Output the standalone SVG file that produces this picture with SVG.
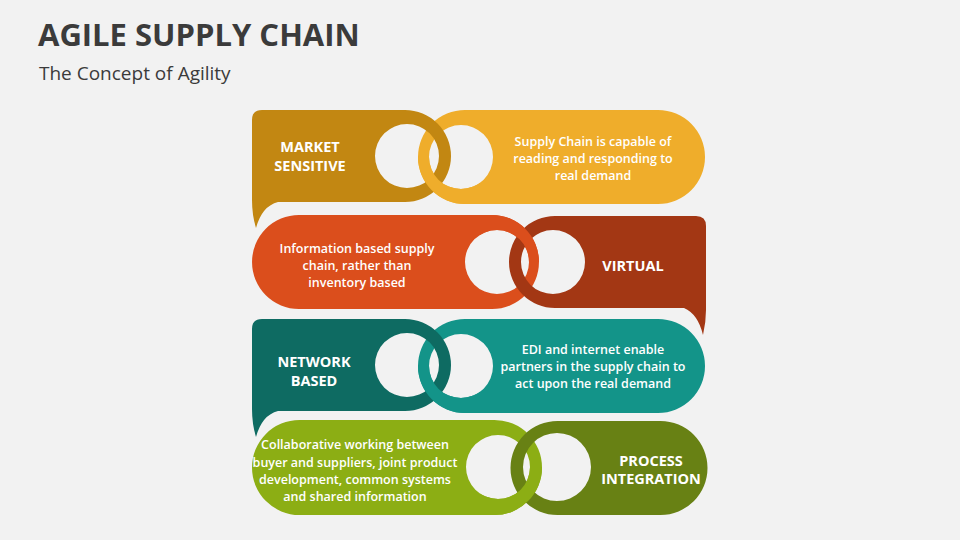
<svg xmlns="http://www.w3.org/2000/svg" width="960" height="540" viewBox="0 0 960 540">
<style>
.s{fill-rule:evenodd}
.h{font-family:"Open Sans","Noto Sans",sans-serif;font-weight:bold;font-size:14.5px;fill:#fff;text-anchor:middle}
.t{font-family:"Open Sans","Noto Sans",sans-serif;font-weight:600;font-size:12.5px;fill:#fff;text-anchor:middle}
</style>
<defs>
<clipPath id="cb1"><rect x="400" y="157" width="80" height="60"/></clipPath>
<clipPath id="ct2"><rect x="480" y="200" width="80" height="62"/></clipPath>
<clipPath id="cb4"><rect x="480" y="468" width="80" height="60"/></clipPath>
<path id="light1" class="s" d="M465,110 H658 A47 47 0 0 1 658,204 H465 A47 47 0 0 1 465,110 Z M429,157 a32 32 0 1 0 64 0 a32 32 0 1 0 -64 0 Z"/>
<path id="dark1" class="s" d="M252,120 Q252,110 262,110 H405 A46 46 0 0 1 405,202 H278 Q262,206 256,228 Q252,215 252,200 Z M375,156 a32 32 0 1 0 64 0 a32 32 0 1 0 -64 0 Z"/>
<path id="or2" class="s" d="M299,215 H492 A47 47 0 0 1 492,309 H299 A47 47 0 0 1 299,215 Z M465,262 a32 32 0 1 0 64 0 a32 32 0 1 0 -64 0 Z"/>
<path id="gr4" class="s" d="M299.5,420 H494.5 A47.5 47.5 0 0 1 494.5,515 H299.5 A47.5 47.5 0 0 1 299.5,420 Z M466,467 a32 32 0 1 0 64 0 a32 32 0 1 0 -64 0 Z"/>
</defs>
<rect width="960" height="540" fill="#f2f2f2"/>
<text x="38" y="46" font-family="'Open Sans','Noto Sans',sans-serif" font-weight="bold" font-size="31" fill="#3b3b3b">AGILE SUPPLY CHAIN</text>
<text x="39" y="80" font-family="'Open Sans','Noto Sans',sans-serif" font-size="19" fill="#3b3b3b">The Concept of Agility</text>

<g id="row1">
<use href="#light1" fill="#EFAD2B"/>
<use href="#dark1" fill="#C28712"/>
<use href="#light1" fill="#EFAD2B" clip-path="url(#cb1)"/>
</g>
<g id="market-sensitive"><text class="h" x="310" y="152">MARKET</text><text class="h" x="310" y="171">SENSITIVE</text></g>
<g id="market-desc"><text class="t" x="593" y="146">Supply Chain is capable of</text><text class="t" x="593" y="163">reading and responding to</text><text class="t" x="593" y="180">real demand</text></g>

<g id="row2">
<use href="#or2" fill="#DB4E1C"/>
<path class="s" fill="#A33714" d="M555,216 H696 Q706,216 706,226 V310 Q706,322 703,335 Q698,314 684,308 H555 A46 46 0 0 1 555,216 Z M521,262 a32 32 0 1 0 64 0 a32 32 0 1 0 -64 0 Z"/>
<use href="#or2" fill="#DB4E1C" clip-path="url(#ct2)"/>
</g>
<g id="virtual-desc"><text class="t" x="357" y="253">Information based supply</text><text class="t" x="357" y="270">chain, rather than</text><text class="t" x="357" y="287">inventory based</text></g>
<g id="virtual"><text class="h" x="633" y="271">VIRTUAL</text></g>

<g id="row3" transform="translate(0,209)">
<use href="#light1" fill="#139489"/>
<use href="#dark1" fill="#0E6B62"/>
<use href="#light1" fill="#139489" clip-path="url(#cb1)"/>
</g>
<g id="network-based"><text class="h" x="314" y="367">NETWORK</text><text class="h" x="314" y="386">BASED</text></g>
<g id="network-desc"><text class="t" x="593" y="354">EDI and internet enable</text><text class="t" x="593" y="371">partners in the supply chain to</text><text class="t" x="593" y="388">act upon the real demand</text></g>

<g id="row4">
<use href="#gr4" fill="#8CAE14"/>
<path class="s" fill="#688114" d="M557.5,421 H660.5 A47 47 0 0 1 660.5,515 H557.5 A47 47 0 0 1 557.5,421 Z M523,467 a34 34 0 1 0 68 0 a34 34 0 1 0 -68 0 Z"/>
<use href="#gr4" fill="#8CAE14" clip-path="url(#cb4)"/>
</g>
<g id="process-desc"><text class="t" x="355" y="449">Collaborative working between</text><text class="t" x="355" y="467">buyer and suppliers, joint product</text><text class="t" x="355" y="484">development, common systems</text><text class="t" x="355" y="501">and shared information</text></g>
<g id="process-integration"><text class="h" x="651" y="466">PROCESS</text><text class="h" x="651" y="484">INTEGRATION</text></g>
<g id="connectors"/>
</svg>
